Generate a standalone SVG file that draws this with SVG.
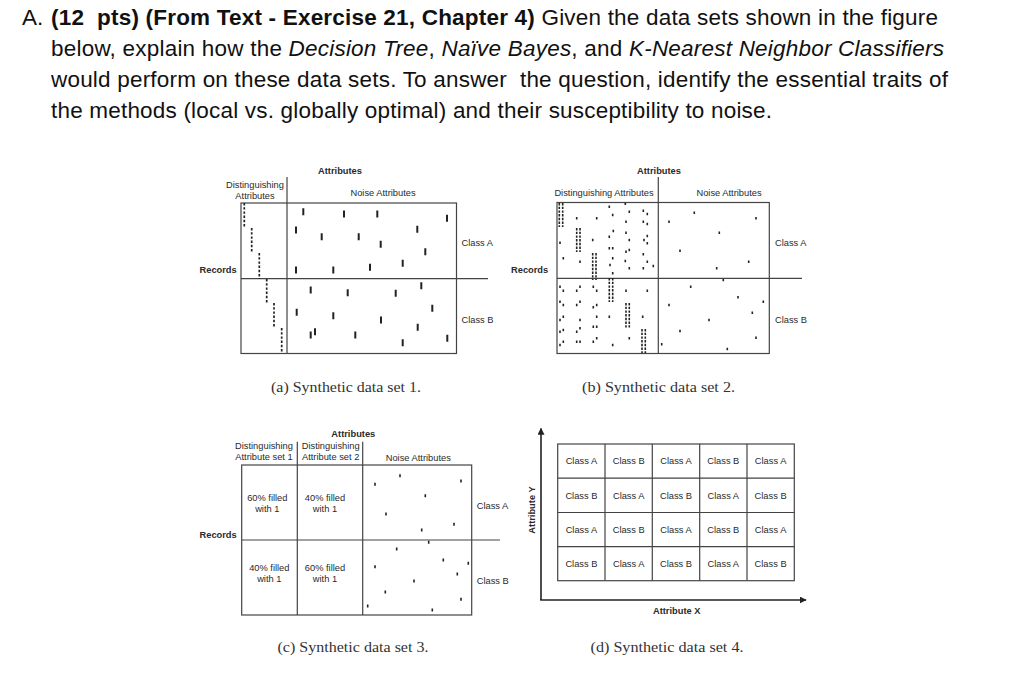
<svg xmlns="http://www.w3.org/2000/svg" width="1024" height="678" viewBox="0 0 1024 678">
<defs>
<style>
.hd{font-family:"Liberation Sans",Arial,sans-serif;font-size:22.5px;fill:#111;white-space:pre}
.b{font-weight:bold}
.i{font-style:italic}
.sm{font-family:"Liberation Sans",Arial,sans-serif;font-size:9.3px;fill:#2a2a2a}
.smb{font-family:"Liberation Sans",Arial,sans-serif;font-size:9.3px;font-weight:bold;fill:#2a2a2a}
.mid{text-anchor:middle}
.cap{font-family:"Liberation Serif","Times New Roman",serif;font-size:15px;fill:#333;text-anchor:middle}
.ln{fill:none;stroke:#444;stroke-width:1.2}
.tick{fill:none;stroke:#222;stroke-width:2}
.dot{fill:none;stroke:#222;stroke-width:1.6}
.dash{fill:none;stroke:#222;stroke-width:1.7;stroke-dasharray:2.4 1.8}
.stack{fill:none;stroke:#222;stroke-width:1.6;stroke-dasharray:2.4 1.3}
</style>
<marker id="arr" viewBox="0 0 10 10" refX="9" refY="5" markerWidth="7" markerHeight="7" markerUnits="userSpaceOnUse" orient="auto">
<path d="M0,0 L10,5 L0,10 z" fill="#222"/>
</marker>
</defs>
<rect width="1024" height="678" fill="#fff"/>

<g id="header">
<text class="hd" x="22" y="25">A.</text>
<text class="hd" x="51" y="25" textLength="887" lengthAdjust="spacing"><tspan class="b">(12  pts) (From Text - Exercise 21, Chapter 4)</tspan> Given the data sets shown in the figure</text>
<text class="hd" x="51" y="56" textLength="893" lengthAdjust="spacing">below, explain how the <tspan class="i">Decision Tree</tspan>, <tspan class="i">Naïve Bayes</tspan>, and <tspan class="i">K-Nearest Neighbor Classifiers</tspan></text>
<text class="hd" x="51" y="87" textLength="897" lengthAdjust="spacing">would perform on these data sets. To answer  the question, identify the essential traits of</text>
<text class="hd" x="51" y="118" textLength="721" lengthAdjust="spacing">the methods (local vs. globally optimal) and their susceptibility to noise.</text>
</g>

<g id="panel-a">
<rect class="ln" x="241" y="203" width="215.5" height="150.5"/>
<path class="ln" d="M287 177V353.5 M241 278.7H488"/>
<path class="dash" d="M244.3 203V228 M251.7 228V253 M259.3 253V279 M266.7 279V303 M274 303V328 M281.7 328V353"/>
<path class="tick" d="M303.3 208.2v7 M344 210.5v7 M377.3 210.5v7 M447 214.8v7 M296 226.5v7 M321.7 233.2v7 M358.7 233.2v7 M417.3 225.8v7 M380.7 240.8v7 M425.3 248.2v7 M296 266.5v7 M333.3 266.5v7 M370 263.8v7 M402.7 259.8v7 M310.7 286.5v7 M347.7 289.2v7 M395.7 289.8v7 M421.3 282.2v7 M296.7 308.8v7 M333.3 312.2v7 M381 316.5v7 M432.3 304.8v7 M310.7 331.5v7 M315 328.2v7 M355.3 331.5v7 M417.7 323.8v7 M402.7 339.2v7 M447.3 334.8v7"/>
<text class="smb mid" x="340" y="174">Attributes</text>
<text class="sm mid" x="255" y="188">Distinguishing</text>
<text class="sm mid" x="255" y="199">Attributes</text>
<text class="sm mid" x="383" y="196">Noise Attributes</text>
<text class="sm" x="461.5" y="246">Class A</text>
<text class="smb" x="199.5" y="273">Records</text>
<text class="sm" x="461.5" y="323">Class B</text>
<text class="cap" x="346" y="391.5" textLength="150" lengthAdjust="spacingAndGlyphs">(a) Synthetic data set 1.</text>
</g>

<g id="panel-b">
<rect class="ln" x="557" y="202.5" width="212.3" height="151"/>
<path class="ln" d="M658.3 177V353.5 M557 278.3H802"/>
<path class="stack" d="M559.3 203V227 M562.7 203V227 M576.7 228V252 M580 228V252 M592.7 253V280 M596 253V280 M609.3 278V302 M612.7 278V302 M626 303V328 M629.3 303V328 M642 329V353 M645.3 329V353"/>
<path class="dot" d="M609.3 205.5v2.5 M625.3 202.5v2.5 M629.3 210.5v2.5 M612.7 213.8v2.5 M643.3 209.5v2.5 M647.3 212.8v2.5 M576.7 217v2.5 M596.7 217v2.5 M626 220.5v2.5 M643.3 220.5v2.5 M647.3 222.8v2.5 M613.3 229.8v2.5 M626 231.5v2.5 M609.3 235.5v2.5 M647.3 234.8v2.5 M644 238.8v2.5 M560 241.5v2.5 M592.7 238.8v2.5 M629.3 238.8v2.5 M647.3 242v2.5 M609.3 247v2.5 M612.7 247v2.5 M626 250.5v2.5 M629.3 248.8v2.5 M643.3 253v2.5 M563.3 257v2.5 M580 260.5v2.5 M612.7 257v2.5 M625.3 259.8v2.5 M647.3 260.5v2.5 M610 263.8v2.5 M653.3 264.8v2.5 M629.3 267v2.5 M643.3 267v2.5 M612.7 272v2.5
M560 285.5v2.5 M563.3 289.5v2.5 M576.7 289.5v2.5 M580 285.5v2.5 M593.3 285.5v2.5 M596.7 289.5v2.5 M626 289.5v2.5 M647.3 289.5v2.5 M560 300.5v2.5 M563.3 303.8v2.5 M576.7 303.8v2.5 M580 300.5v2.5 M596.7 303.8v2.5 M593.3 306v2.5 M560 318.8v2.5 M563.3 315.5v2.5 M580 318.8v2.5 M596.7 315.5v2.5 M609.3 315.5v2.5 M642.7 315.5v2.5 M560 330.5v2.5 M563.3 328.8v2.5 M576.7 330.5v2.5 M580 327v2.5 M593.3 325.5v2.5 M596.7 325.5v2.5 M629.3 337v2.5 M560 343.8v2.5 M563.3 340.5v2.5 M576.7 340.5v2.5 M580 340.5v2.5 M593.3 340.5v2.5 M596.7 337v2.5 M612.7 343.8v2.5
M694.3 211.5v2.5 M756 217v2.5 M669 220.5v2.5 M719.3 231.5v2.5 M680 249.5v2.5 M748.7 260.5v2.5 M716.7 267v2.5 M723.3 278.8v2.5 M690.7 285.5v2.5 M738 296v2.5 M763.3 300.5v2.5 M669 303.8v2.5 M752.3 311.5v2.5 M709 318.8v2.5 M680 329.8v2.5 M756 336.5v2.5 M661.7 343v2.5 M727.3 347.8v2.5"/>
<text class="smb mid" x="659" y="174">Attributes</text>
<text class="sm mid" x="604" y="196">Distinguishing Attributes</text>
<text class="sm mid" x="729" y="196">Noise Attributes</text>
<text class="sm" x="775" y="246">Class A</text>
<text class="smb" x="511" y="273">Records</text>
<text class="sm" x="775" y="323">Class B</text>
<text class="cap" x="658.5" y="391.5" textLength="153" lengthAdjust="spacingAndGlyphs">(b) Synthetic data set 2.</text>
</g>

<g id="panel-c">
<rect class="ln" x="241.7" y="465" width="230" height="150"/>
<path class="ln" d="M297.3 441.7V615 M362.7 441.7V615 M241.7 540H500"/>
<path class="dot" d="M400 474.2v3 M375 482.8v3 M461 479.5v3 M425.3 494.2v3 M386 512.5v3 M454 522.8v3 M421.7 528.5v3 M428.7 540.8v3 M396.7 547.5v3 M375 565.2v3 M443.3 558.5v3 M468.3 561.8v3 M457.3 572.5v3 M414 579.5v3 M385.3 590.5v3 M461 597.8v3 M367.7 604.5v3 M432.3 608.5v3"/>
<text class="smb mid" x="353.3" y="436.5">Attributes</text>
<text class="sm mid" x="264" y="449">Distinguishing</text>
<text class="sm mid" x="264" y="460">Attribute set 1</text>
<text class="sm mid" x="330.7" y="449">Distinguishing</text>
<text class="sm mid" x="330.7" y="460">Attribute set 2</text>
<text class="sm mid" x="418.3" y="460.5">Noise Attributes</text>
<text class="sm mid" x="267.3" y="501">60% filled</text>
<text class="sm mid" x="267.3" y="512">with 1</text>
<text class="sm mid" x="325" y="501">40% filled</text>
<text class="sm mid" x="325" y="512">with 1</text>
<text class="sm" x="476.7" y="509">Class A</text>
<text class="smb" x="199.5" y="538">Records</text>
<text class="sm mid" x="269.3" y="570.5">40% filled</text>
<text class="sm mid" x="269.3" y="581.5">with 1</text>
<text class="sm mid" x="325" y="570.5">60% filled</text>
<text class="sm mid" x="325" y="581.5">with 1</text>
<text class="sm" x="476.7" y="584">Class B</text>
<text class="cap" x="353" y="652" textLength="151" lengthAdjust="spacingAndGlyphs">(c) Synthetic data set 3.</text>
</g>

<g id="panel-d">
<g id="connectors">
<path d="M541 600V428.5" stroke="#222" stroke-width="1.6" fill="none" marker-end="url(#arr)"/>
<path d="M540.2 600H806" stroke="#222" stroke-width="1.6" fill="none" marker-end="url(#arr)"/>
</g>
<rect class="ln" x="557.7" y="444" width="236.6" height="136.7"/>
<path class="ln" d="M605 444V580.7 M652.3 444V580.7 M699.7 444V580.7 M747 444V580.7 M557.7 478.2H794.3 M557.7 512.5H794.3 M557.7 546.7H794.3"/>
<g class="sm mid">
<text x="581.4" y="464.4">Class A</text><text x="628.7" y="464.4">Class B</text><text x="676" y="464.4">Class A</text><text x="723.3" y="464.4">Class B</text><text x="770.6" y="464.4">Class A</text>
<text x="581.4" y="498.6">Class B</text><text x="628.7" y="498.6">Class A</text><text x="676" y="498.6">Class B</text><text x="723.3" y="498.6">Class A</text><text x="770.6" y="498.6">Class B</text>
<text x="581.4" y="532.8">Class A</text><text x="628.7" y="532.8">Class B</text><text x="676" y="532.8">Class A</text><text x="723.3" y="532.8">Class B</text><text x="770.6" y="532.8">Class A</text>
<text x="581.4" y="566.9">Class B</text><text x="628.7" y="566.9">Class A</text><text x="676" y="566.9">Class B</text><text x="723.3" y="566.9">Class A</text><text x="770.6" y="566.9">Class B</text>
</g>
<text class="smb mid" x="534.9" y="510" transform="rotate(-90 534.9 510)">Attribute Y</text>
<text class="smb mid" x="676.7" y="614">Attribute X</text>
<text class="cap" x="667" y="652" textLength="153" lengthAdjust="spacingAndGlyphs">(d) Synthetic data set 4.</text>
</g>
</svg>
